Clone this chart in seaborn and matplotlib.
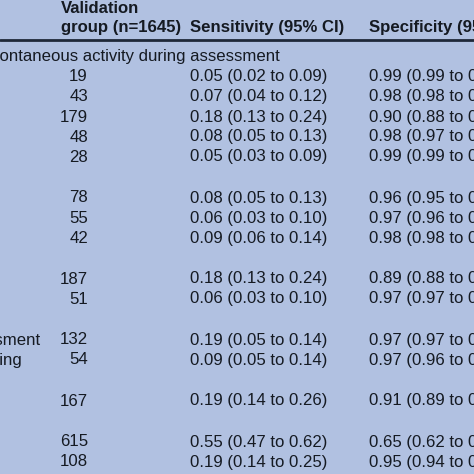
import matplotlib.pyplot as plt
import seaborn as sns

n_values = ["19", "43", "179", "48", "28", "78", "55", "42", "187", "51",
            "132", "54", "167", "615", "108"]
sensitivity = ["0.05 (0.02 to 0.09)", "0.07 (0.04 to 0.12)", "0.18 (0.13 to 0.24)",
               "0.08 (0.05 to 0.13)", "0.05 (0.03 to 0.09)", "0.08 (0.05 to 0.13)",
               "0.06 (0.03 to 0.10)", "0.09 (0.06 to 0.14)", "0.18 (0.13 to 0.24)",
               "0.06 (0.03 to 0.10)", "0.19 (0.05 to 0.14)", "0.09 (0.05 to 0.14)",
               "0.19 (0.14 to 0.26)", "0.55 (0.47 to 0.62)", "0.19 (0.14 to 0.25)"]
specificity = ["0.99 (0.99 to 0.99)", "0.98 (0.98 to 0.99)", "0.90 (0.88 to 0.91)",
               "0.98 (0.97 to 0.98)", "0.99 (0.99 to 0.99)", "0.96 (0.95 to 0.97)",
               "0.97 (0.96 to 0.98)", "0.98 (0.98 to 0.99)", "0.89 (0.88 to 0.91)",
               "0.97 (0.97 to 0.98)", "0.97 (0.97 to 0.98)", "0.97 (0.96 to 0.98)",
               "0.91 (0.89 to 0.92)", "0.65 (0.62 to 0.67)", "0.95 (0.94 to 0.96)"]
row_y = [76, 96, 117, 137, 157, 198, 218, 238, 279, 299, 340, 360, 401, 442, 462]

sns.set_theme(style="white")
plt.rcParams["font.family"] = ["Liberation Sans", "DejaVu Sans"]
bg = "#b1c1e1"

fig = plt.figure(figsize=(4.74, 4.74), dpi=100, facecolor=bg)
ax = fig.add_axes([0, 0, 1, 1])
ax.set_facecolor(bg)
ax.set_xlim(0, 474)
ax.set_ylim(474, 0)
ax.axis("off")

fs = 12.1
col = "#151a22"
ax.text(61, 8, "Validation", fontsize=fs, weight="bold", va="center", color=col)
ax.text(61, 27, "group (n=1645)", fontsize=fs, weight="bold", va="center", color=col)
ax.text(190, 27, "Sensitivity (95% CI)", fontsize=fs, weight="bold", va="center", color=col)
ax.text(369, 27, "Specificity (95% CI)", fontsize=fs, weight="bold", va="center", color=col)
ax.plot([0, 474], [40, 40], color="#1e2838", lw=2)

ax.text(280, 56, "Spontaneous activity during assessment", fontsize=fs,
        ha="right", va="center", color=col)
ax.text(40, 340, "during assessment", fontsize=fs, ha="right", va="center", color=col)
ax.text(22, 360, "during training", fontsize=fs, ha="right", va="center", color=col)

for y, n, se, sp in zip(row_y, n_values, sensitivity, specificity):
    ax.text(88, y, n, fontsize=fs, ha="right", va="center", color=col)
    ax.text(190, y, se, fontsize=fs, va="center", color=col)
    ax.text(369, y, sp, fontsize=fs, va="center", color=col)

fig.savefig("out.png", dpi=100, facecolor=bg)
